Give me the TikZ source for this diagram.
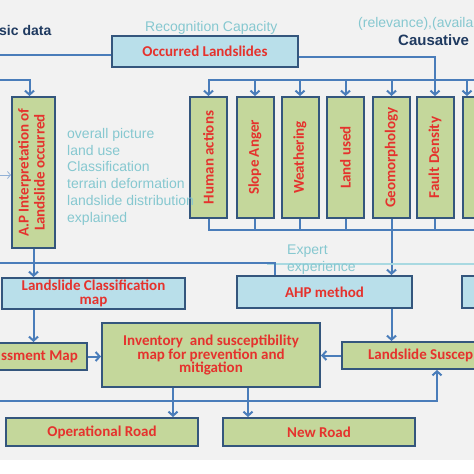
\documentclass[tikz,border=0pt]{standalone}
\usepackage{graphicx}
\usepackage{fontspec}
\setmainfont{Carlito}
\newfontfamily\arialfont{Liberation Sans}
\usetikzlibrary{arrows.meta}

\definecolor{boxgreen}{HTML}{C4D79B}
\definecolor{boxblue}{HTML}{B9DFEA}
\definecolor{boxedge}{HTML}{34567D}
\definecolor{wirecol}{HTML}{4A7DBA}
\definecolor{redtext}{HTML}{E5322D}
\definecolor{tealtext}{HTML}{86C8D0}
\definecolor{navytext}{HTML}{1F3A60}
\definecolor{bggray}{HTML}{F2F2F2}
\definecolor{paleline}{HTML}{A9D9E1}

\tikzset{
  box/.style={draw=boxedge, line width=2pt, inner sep=0pt, align=center,
    font=\fontsize{15}{12}\selectfont\bfseries, text=redtext},
  greenbox/.style={box, fill=boxgreen},
  bluebox/.style={box, fill=boxblue},
  vbox/.style={greenbox, minimum width=37pt, minimum height=121pt},
  wire/.style={draw=wirecol, line width=2pt},
  arr/.style={wire, -{Straight Barb[length=4pt,width=9pt]}},
  thinarr/.style={draw=wirecol!60, line width=0.8pt, -{Straight Barb[length=3pt,width=7pt]}},
  note/.style={font=\arialfont\fontsize{14}{16.8}\selectfont, text=tealtext,
    inner sep=0pt, align=left},
  heading/.style={font=\arialfont\fontsize{15}{18}\selectfont\bfseries,
    text=navytext, inner sep=0pt},
}

\begin{document}
\begin{tikzpicture}[x=1pt, y=-1pt]
  \useasboundingbox (0,0) rectangle (474,474);
  \clip (0,0) rectangle (474,474);
  \fill[bggray] (0,0) rectangle (474,460);

  % texts round the top
  \node[heading, font=\arialfont\fontsize{14}{17}\selectfont\bfseries, anchor=west]
    (basic) at (-1,30) {sic data};
  \node[note, anchor=west] (recog) at (145,28) {Recognition Capacity};
  \node[note, anchor=west] (relev) at (358,24) {(relevance),(availa};
  \node[heading, anchor=west] (causative) at (398,40) {Causative};

  % boxes
  \node[bluebox, minimum width=186pt, minimum height=31pt] (occurred)
    at (205,51.5) {Occurred Landslides};

  \node[greenbox, minimum width=43pt, minimum height=151pt] (ap) at (33.5,172.5)
    {\rotatebox{90}{\fontsize{15}{16}\selectfont
      \begin{tabular}{@{}c@{}}A.P Interpretation of\\Landslide occurred\end{tabular}}};

  \node[vbox] (human) at (208.5,157.5) {\rotatebox{90}{Human actions}};
  \node[vbox] (slope) at (255,157.5) {\rotatebox{90}{Slope Anger}};
  \node[vbox] (weather) at (300,157.5) {\rotatebox{90}{Weathering}};
  \node[vbox] (landused) at (345.5,157.5) {\rotatebox{90}{Land used}};
  \node[vbox] (geomorph) at (391.5,157.5) {\rotatebox{90}{Geomorphology}};
  \node[vbox] (fault) at (435,157.5) {\rotatebox{90}{Fault Density}};
  \node[vbox] (extra) at (481.5,157.5) {};

  \node[note, anchor=north west] (overview) at (67,128)
    {overall picture\\land use\\Classification\\terrain deformation\\landslide distribution\\explained};

  \node[bluebox, minimum width=183pt, minimum height=31pt,
    font=\fontsize{15}{14}\selectfont\bfseries] (classmap)
    at (93.5,293.5) {Landslide Classification\\map};
  \node[bluebox, minimum width=175pt, minimum height=32pt] (ahp)
    at (324.5,292) {AHP method};
  \node[bluebox, minimum width=60pt, minimum height=32pt] (rightblue)
    at (492,292) {};

  \node[greenbox, minimum width=95pt, minimum height=27pt] (assess)
    at (39.5,356.5) {ssment Map};
  \node[greenbox, minimum width=218pt, minimum height=64pt] (inventory)
    at (211,355) {Inventory~ and susceptibility\\map for prevention and\\mitigation};
  \node[greenbox, anchor=west, minimum height=27pt, text width=128pt,
    inner xsep=26pt, align=flush left] (suscep) at (341,355.5) {Landslide Suscep};

  \node[greenbox, minimum width=192pt, minimum height=28pt] (oproad)
    at (102,432) {Operational Road};
  \node[greenbox, minimum width=192pt, minimum height=28pt] (newroad)
    at (319,432) {New Road};

  % free ends of the buses
  \coordinate (leftA) at (0,55);
  \coordinate (topL) at (0,80);
  \coordinate (topR) at (480,80);
  \coordinate (lowR) at (480,230);
  \coordinate (inL) at (0,175);
  \coordinate (midL) at (0,263);
  \coordinate (ahptick) at (275,263);
  \coordinate (expL) at (267,264);
  \coordinate (expR) at (480,264);
  \coordinate (botL) at (0,401);
  \coordinate (botR) at (437,401);

  % top
  \draw[wire] (occurred.west |- leftA) -- (leftA);
  \draw[arr] (occurred.east |- 0,57) -| (fault.north);
  \draw[arr] (topL) -| ([xshift=-4pt]ap.north);
  \draw[arr] (topR) -| (human.north);
  \draw[arr] (slope.north |- topR) -- (slope.north);
  \draw[arr] (weather.north |- topR) -- (weather.north);
  \draw[arr] (landused.north |- topR) -- (landused.north);
  \draw[arr] (geomorph.north |- topR) -- (geomorph.north);
  \draw[arr] ([xshift=-14.5pt]extra.north |- topR) -- ([xshift=-14.5pt]extra.north);
  \draw[thinarr] (inL) -- (ap.west |- inL);

  % factors to AHP
  \draw[wire] (human.south) |- (lowR);
  \draw[wire] (slope.south) -- (slope.south |- lowR);
  \draw[wire] (weather.south) -- (weather.south |- lowR);
  \draw[wire] (landused.south) -- (landused.south |- lowR);
  \draw[wire] (fault.south) -- (fault.south |- lowR);
  \draw[arr] (geomorph.south) -- (geomorph.south |- ahp.north);

  \draw[paleline, line width=2.5pt] (expL) -- (expR);
  \draw[wire] (midL) -- (ahptick) -- (ahptick |- ahp.north);
  \node[note, anchor=north west] (expert) at (287,245) {Expert\\experience};
  \draw[arr] (ap.south) -- (ap.south |- classmap.north);

  % maps
  \draw[arr] (classmap.south -| ap.south) -- (assess.north -| ap.south);
  \draw[arr] (assess.east) -- (inventory.west |- assess.east);
  \draw[arr] (ahp.south -| geomorph.south) -- (suscep.north -| geomorph.south);
  \draw[arr] (suscep.west) -- (inventory.east |- suscep.west);

  % roads
  \draw[arr] (botL) -- (botR) -- (botR |- suscep.south);
  \draw[arr] ([xshift=-38pt]inventory.south) -- ([xshift=-38pt]inventory.south |- oproad.north);
  \draw[arr] ([xshift=37pt]inventory.south) -- ([xshift=37pt]inventory.south |- newroad.north);
\end{tikzpicture}
\end{document}
